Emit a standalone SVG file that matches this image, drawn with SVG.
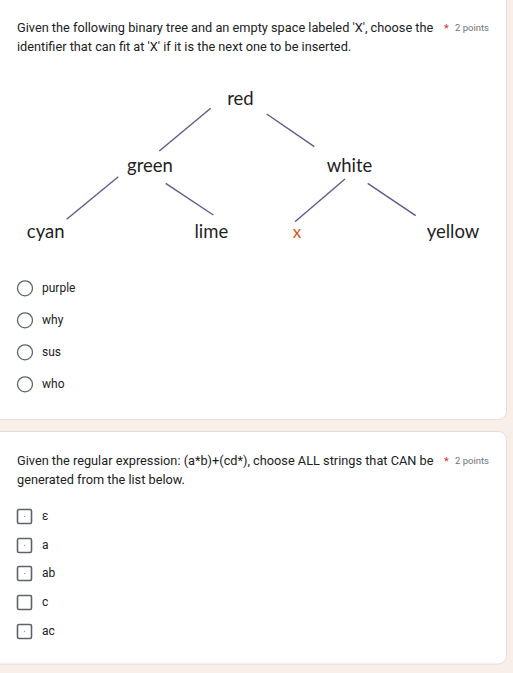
<svg xmlns="http://www.w3.org/2000/svg" width="513" height="673" viewBox="0 0 513 673">
<style>
.card{fill:#ffffff;stroke:#e6ddd8;stroke-width:1}
.q{font-family:Roboto,"Liberation Sans",sans-serif;font-size:12.75px;fill:#202124}
.pts{font-family:Roboto,"Liberation Sans",sans-serif;font-size:9.5px;fill:#70757a}
.star{font-family:Roboto,"Liberation Sans",sans-serif;font-size:11px;fill:#d93025}
.opt{font-family:Roboto,"Liberation Sans",sans-serif;font-size:12px;fill:#202124}
.node{font-family:Lato,"Open Sans",sans-serif;font-size:18.5px;fill:#1f1f1f;text-anchor:middle}
.edge{stroke:#5d5a8e;stroke-width:1.4;fill:none}
.radio{fill:#fff;stroke:#5f6368;stroke-width:1.3}
.cb{fill:#fff;stroke:#5f6368;stroke-width:1.6}
</style>
<rect x="0" y="0" width="513" height="673" fill="#f8efea"/>
<rect class="card" x="-8" y="-10" width="514.5" height="429.5" rx="8"/>
<rect class="card" x="-8" y="431.5" width="514.5" height="232.5" rx="8"/>

<g id="question1">
<text class="q" x="17" y="32">Given the following binary tree and an empty space labeled 'X', choose the</text>
<text class="q" x="17" y="51">identifier that can fit at 'X' if it is the next one to be inserted.</text>
<text class="star" x="444" y="32">*</text>
<text class="pts" x="455" y="31">2 points</text>
</g>

<g id="connectors">
<line class="edge" x1="210.7" y1="108.3" x2="159.3" y2="151"/>
<line class="edge" x1="266.7" y1="114" x2="314.3" y2="146.7"/>
<line class="edge" x1="118.3" y1="176.7" x2="66.7" y2="219.3"/>
<line class="edge" x1="165.7" y1="183.3" x2="213.3" y2="215"/>
<line class="edge" x1="345" y1="179" x2="295" y2="221.7"/>
<line class="edge" x1="367.7" y1="183.3" x2="415.7" y2="215.7"/>
</g>

<g id="node-red"><text class="node" x="240.5" y="105">red</text></g>
<g id="node-green"><text class="node" x="150" y="171.5">green</text></g>
<g id="node-white"><text class="node" x="349.5" y="171.5">white</text></g>
<g id="node-cyan"><text class="node" x="45.7" y="238.3">cyan</text></g>
<g id="node-lime"><text class="node" x="211.3" y="238.3">lime</text></g>
<g id="node-x"><text class="node" x="297" y="238.3" style="fill:#d4561e;font-size:17px">x</text></g>
<g id="node-yellow"><text class="node" x="453" y="238.3">yellow</text></g>

<g id="options1">
<circle class="radio" cx="25" cy="288.3" r="7.5"/><text class="opt" x="42" y="292">purple</text>
<circle class="radio" cx="25" cy="320.3" r="7.5"/><text class="opt" x="42" y="324">why</text>
<circle class="radio" cx="25" cy="352.3" r="7.5"/><text class="opt" x="42" y="356">sus</text>
<circle class="radio" cx="25" cy="384.3" r="7.5"/><text class="opt" x="42" y="388">who</text>
</g>

<g id="question2">
<text class="q" x="17" y="465">Given the regular expression: (a*b)+(cd*), choose ALL strings that CAN be</text>
<text class="q" x="17" y="484">generated from the list below.</text>
<text class="star" x="444" y="465">*</text>
<text class="pts" x="455" y="464">2 points</text>
</g>

<g id="options2">
<rect class="cb" x="17.5" y="509.5" width="14" height="14" rx="1.5"/><circle cx="24.5" cy="516.5" r="0.6" fill="#888"/><text class="opt" x="42" y="520">ε</text>
<rect class="cb" x="17.5" y="538.5" width="14" height="14" rx="1.5"/><circle cx="24.5" cy="545.5" r="0.6" fill="#888"/><text class="opt" x="42" y="549">a</text>
<rect class="cb" x="17.5" y="566.5" width="14" height="14" rx="1.5"/><circle cx="24.5" cy="573.5" r="0.6" fill="#888"/><text class="opt" x="42" y="577">ab</text>
<rect class="cb" x="17.5" y="595.5" width="14" height="14" rx="1.5"/><text class="opt" x="42" y="606">c</text>
<rect class="cb" x="17.5" y="624.5" width="14" height="14" rx="1.5"/><circle cx="24.5" cy="631.5" r="0.6" fill="#888"/><text class="opt" x="42" y="635">ac</text>
</g>
</svg>
